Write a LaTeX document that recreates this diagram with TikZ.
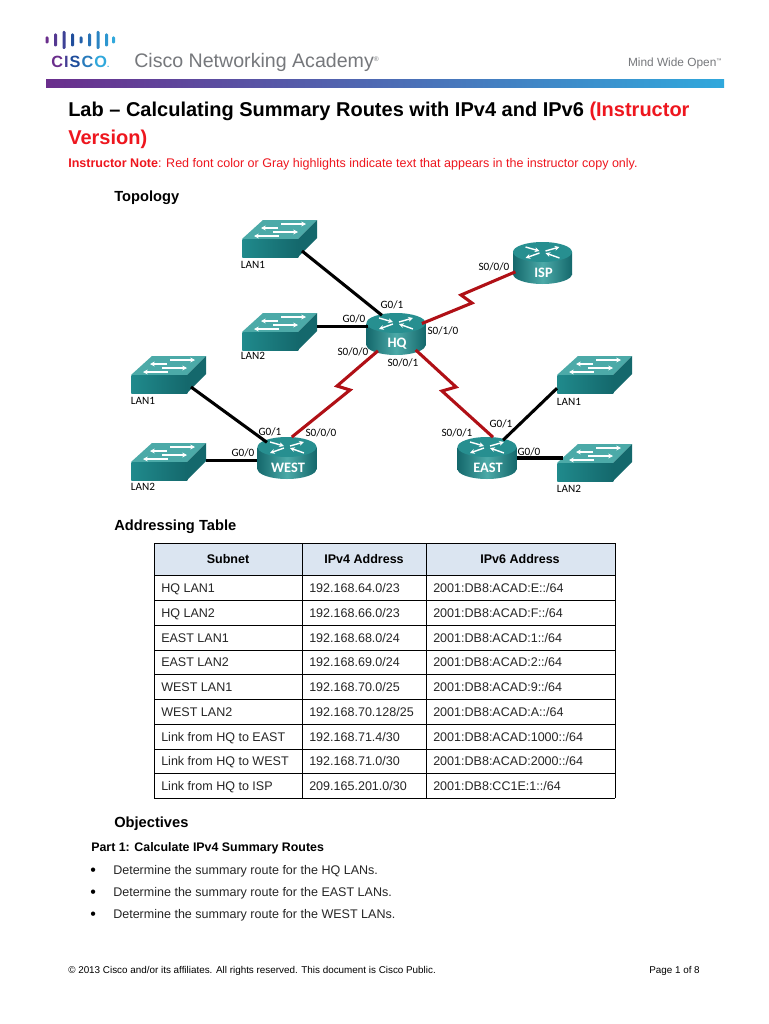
\documentclass[tikz,border=0pt]{standalone}
\usepackage{fontspec}
\setmainfont{Liberation Sans}
\newfontfamily\portfont{Carlito}
\usetikzlibrary{arrows.meta}
\definecolor{ciscored}{RGB}{238,22,30}
\definecolor{serialred}{RGB}{176,16,22}
\definecolor{tealdark}{RGB}{20,104,108}
\definecolor{tealmid}{RGB}{32,138,140}
\definecolor{teallight}{RGB}{76,170,168}
\definecolor{headblue}{RGB}{219,229,241}
\definecolor{barpurple}{RGB}{106,46,140}
\definecolor{barblue}{RGB}{32,78,156}
\definecolor{barcyan}{RGB}{48,168,220}
\definecolor{logogray}{RGB}{118,120,124}
\tikzset{
  plaintext/.style={inner sep=0pt, anchor=base west, text=black!85},
  titletext/.style={plaintext, text=black, font=\fontsize{15}{18}\selectfont\bfseries},
  notetext/.style={plaintext, text=ciscored, font=\fontsize{9.4}{11}\selectfont},
  headtext/.style={plaintext, text=black, font=\fontsize{11}{13}\selectfont\bfseries},
  celltext/.style={plaintext, font=\fontsize{9.4}{11}\selectfont},
  cellhead/.style={inner sep=0pt, anchor=base, text=black, font=\fontsize{9.4}{11}\selectfont\bfseries},
  bodytext/.style={plaintext, font=\fontsize{9.4}{11}\selectfont},
  foottext/.style={plaintext, text=black, font=\fontsize{7.4}{9}\selectfont},
  portlabel/.style={inner sep=0pt, text=black, font=\portfont\fontsize{8.4}{10}\selectfont},
  routertext/.style={inner sep=0pt, text=white, font=\portfont\bfseries\fontsize{10.8}{12}\selectfont},
  routerbox/.style={ellipse, inner sep=0pt, minimum width=44.25pt, minimum height=31.5pt},
  switchbox/.style={rectangle, anchor=north west, inner sep=0pt, minimum width=42pt, minimum height=13.5pt, left color=tealmid, right color=tealdark},
  whitearrow/.style={white, line width=1.05pt, -{Stealth[length=3.6pt,width=3.6pt]}},
  ethlink/.style={black, line width=2.3pt},
  seriallink/.style={serialred, line width=2.3pt},
}
\usetikzlibrary{shapes.geometric}
% switch: name, x and y of the front top left corner
\newcommand{\switchicon}[3]{
  \begin{scope}[shift={(#2,#3)}]
    \fill[teallight] (0,0) -- (21,-19) -- (75,-19) -- (56,0) -- cycle;
    \fill[tealdark] (56,0) -- (75,-19) -- (75,-1) -- (56,18) -- cycle;
    \node[switchbox] (#1) at (0,0) {};
    \draw[whitearrow] (39,-15) -- (64,-15);
    \draw[whitearrow] (36,-11) -- (19,-11);
    \draw[whitearrow] (31,-7) -- (56,-7);
    \draw[whitearrow] (37,-3) -- (12,-3);
    \coordinate (#1side) at (60,12);
    \coordinate (#1east) at (75,-3);
    \coordinate (#1top) at (6,-4);
  \end{scope}
}
% router: name, text, x and y of the centre of the top ellipse
\newcommand{\routericon}[4]{
  \begin{scope}[shift={(#3,#4)}]
    \shade[left color=tealdark, right color=tealdark, middle color=teallight] (0,22) ellipse [x radius=29.5, y radius=10];
    \shade[left color=tealdark, right color=tealdark, middle color=teallight] (-29.5,0) rectangle (29.5,22);
    \fill[tealmid!85!teallight] (0,0) ellipse [x radius=29.5, y radius=10];
    \draw[whitearrow] (-17,-5) -- (-3,-1);
    \draw[whitearrow] (3,-1) -- (17,-5);
    \draw[whitearrow] (-3,1) -- (-17,6);
    \draw[whitearrow] (17,6) -- (3,1);
    \node[routerbox] (#1) at (0,11) {};
    \node[routertext] (#1text) at (1,21) {#2};
  \end{scope}
}
\begin{document}
\begin{tikzpicture}[x=0.75pt,y=-0.75pt]
  \useasboundingbox (0,0) rectangle (768,1024);
  \fill[white] (0,0) rectangle (768,1024);

  % Header with logo and colour bar
  \foreach \barx/\barh/\barc in {47/7/barpurple, 55.5/13/barpurple!70!barblue, 64/18/barpurple!40!barblue, 72.5/13/barblue, 81/7/barblue!80!barcyan, 89.5/13/barblue!60!barcyan, 98/18/barblue!40!barcyan, 106.5/13/barblue!20!barcyan, 113.5/7/barcyan}
    \fill[\barc, rounded corners=0.8pt] (\barx-1.5,40-\barh/2) rectangle (\barx+1.5,40+\barh/2);
  \node[plaintext, font=\fontsize{12.2}{15}\selectfont\bfseries] (ciscoword) at (51,67.5) {\textcolor{barpurple}{C}\hspace{0.8pt}\textcolor{barpurple!50!barblue}{I}\hspace{0.8pt}\textcolor{barblue}{S}\hspace{0.8pt}\textcolor{barblue!50!barcyan}{C}\hspace{0.8pt}\textcolor{barcyan}{O}\textcolor{barcyan}{\fontsize{6}{6}\selectfont.}};
  \node[plaintext, text=logogray, font=\fontsize{14.7}{17}\selectfont] (academy) at (134,68) {Cisco Networking Academy\raisebox{5pt}{\fontsize{5}{6}\selectfont ®}};
  \node[inner sep=0pt, anchor=base east, text=logogray, font=\fontsize{8.9}{10}\selectfont] (slogan) at (722,67) {Mind Wide Open\raisebox{3pt}{\fontsize{4}{5}\selectfont ™}};
  \shade[left color=barpurple, middle color=barblue, right color=barcyan] (46,80) rectangle (724,88);

  % Title lines
  \node[titletext] (title) at (68,116) {Lab – Calculating Summary Routes with IPv4 and IPv6 \textcolor{ciscored}{(Instructor}};
  \node[titletext, text=ciscored] (titlemore) at (68,144) {Version)};
  \node[notetext] (note) at (68,167) {\textbf{Instructor Note}: Red font color or Gray highlights indicate text that appears in the instructor copy only.};
  \node[headtext] (topology) at (114,201) {Topology};

  % Switches and routers
  \switchicon{hqlanone}{242}{239}
  \switchicon{hqlantwo}{242}{332}
  \switchicon{westlanone}{131}{375}
  \switchicon{westlantwo}{131}{462}
  \switchicon{eastlanone}{557}{375}
  \switchicon{eastlantwo}{557}{463}
  \routericon{hq}{HQ}{396}{323}
  \routericon{isp}{ISP}{542.5}{252}
  \routericon{west}{WEST}{287}{447}
  \routericon{east}{EAST}{487}{447}

  % Ethernet links
  \draw[ethlink] (hqlanoneside) -- (hq.127);
  \draw[ethlink] (hq.165 -| hqlantwoeast) -- (hq.165);
  \draw[ethlink] (westlanoneside) -- (west.142);
  \draw[ethlink] (west.185 -| westlantwoeast) -- (west.185);
  \draw[ethlink] (eastlanone.188) -- (east.48);
  \draw[ethlink] (east.east) -- (east.east -| eastlantwotop);

  % Serial links with the zigzag
  \draw[seriallink] (hq.22) -- (472,303) -- (461,295) -- (isp.198);
  \draw[seriallink] (hq.223) -- (337,386) -- (350,390) -- (west.77);
  \draw[seriallink] (hq.321) -- (456,387) -- (442,391) -- (east.74);

  % Port and LAN labels
  \node[portlabel] (lblhqone) at (253,265) {LAN1};
  \node[portlabel] (lblhqtwo) at (253,356) {LAN2};
  \node[portlabel] (lblwestone) at (143,401) {LAN1};
  \node[portlabel] (lblwesttwo) at (143,487) {LAN2};
  \node[portlabel] (lbleastone) at (569,402) {LAN1};
  \node[portlabel] (lbleasttwo) at (569,489) {LAN2};
  \node[portlabel] (lblisps) at (494,267) {S0/0/0};
  \node[portlabel] (lblhqgone) at (392,305) {G0/1};
  \node[portlabel] (lblhqgzero) at (354,319) {G0/0};
  \node[portlabel] (lblhqsone) at (443,331) {S0/1/0};
  \node[portlabel] (lblhqszero) at (353,352) {S0/0/0};
  \node[portlabel] (lblhqsoo) at (403,363) {S0/0/1};
  \node[portlabel] (lblwestgone) at (270,432) {G0/1};
  \node[portlabel] (lblwests) at (321,433) {S0/0/0};
  \node[portlabel] (lblwestgzero) at (243,453) {G0/0};
  \node[portlabel] (lbleasts) at (457,433) {S0/0/1};
  \node[portlabel] (lbleastgone) at (501,424) {G0/1};
  \node[portlabel] (lbleastgzero) at (529,452) {G0/0};

  % Addressing table
  \node[headtext] (addressing) at (114,530) {Addressing Table};
  \fill[headblue] (154,543) rectangle (615,575);
  \foreach \liney in {543,575,600,625,650,674,699,724,749,773,798}
    \draw[black, line width=0.6pt] (154,\liney) -- (615,\liney);
  \foreach \linex in {154,302,426,615}
    \draw[black, line width=0.6pt] (\linex,543) -- (\linex,798);
  \node[cellhead] (headsubnet) at (228,563) {Subnet};
  \node[cellhead] (headfour) at (364,563) {IPv4 Address};
  \node[cellhead] (headsix) at (520,563) {IPv6 Address};
  \foreach \rowid/\rowy/\subnet/\ipfour/\ipsix in {
    a/592/HQ LAN1/{192.168.64.0/23}/{2001:DB8:ACAD:E::/64},
    b/617/HQ LAN2/{192.168.66.0/23}/{2001:DB8:ACAD:F::/64},
    c/642/EAST LAN1/{192.168.68.0/24}/{2001:DB8:ACAD:1::/64},
    d/666.5/EAST LAN2/{192.168.69.0/24}/{2001:DB8:ACAD:2::/64},
    e/691/WEST LAN1/{192.168.70.0/25}/{2001:DB8:ACAD:9::/64},
    f/716/WEST LAN2/{192.168.70.128/25}/{2001:DB8:ACAD:A::/64},
    g/741/Link from HQ to EAST/{192.168.71.4/30}/{2001:DB8:ACAD:1000::/64},
    h/765.5/Link from HQ to WEST/{192.168.71.0/30}/{2001:DB8:ACAD:2000::/64},
    i/790/Link from HQ to ISP/{209.165.201.0/30}/{2001:DB8:CC1E:1::/64}} {
    \node[celltext] (subnet\rowid) at (161,\rowy) {\subnet};
    \node[celltext] (four\rowid) at (309,\rowy) {\ipfour};
    \node[celltext] (six\rowid) at (433,\rowy) {\ipsix};
  }

  % Objectives
  \node[headtext] (objectives) at (114,827) {Objectives};
  \node[bodytext, text=black, font=\fontsize{9.3}{11}\selectfont\bfseries] (partone) at (91,851) {Part 1: Calculate IPv4 Summary Routes};
  \foreach \rowid/\rowy/\lantext in {a/874/HQ, b/896/EAST, c/918/WEST} {
    \node[bodytext, text=black, font=\fontsize{12}{12}\selectfont] (bullet\rowid) at (90,\rowy+1) {•};
    \node[bodytext] (goal\rowid) at (113,\rowy) {Determine the summary route for the \lantext{} LANs.};
  }

  % Footer
  \node[foottext] (copyright) at (68,973) {© 2013 Cisco and/or its affiliates. All rights reserved. This document is Cisco Public.};
  \node[foottext, anchor=base east] (pagenum) at (700,973) {Page 1 of 8};
\end{tikzpicture}
\end{document}
